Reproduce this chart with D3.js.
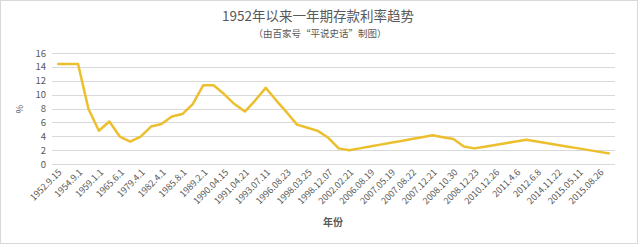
<!DOCTYPE html>
<html lang="zh">
<head>
<meta charset="UTF-8">
<title>1952年以来一年期存款利率趋势</title>
<style>
    body { margin: 0; background: #fff; }
    svg text { font-family: "Noto Sans CJK SC", "Noto Sans", sans-serif; fill: #595959; }
</style>
</head>
<body>
<script src="https://cdn.jsdelivr.net/npm/d3@7"></script>
<script>
// adjustment dates (category axis) and 1-year deposit rate, %
var dates = ["1952.9.15", "1953.1.1", "1954.9.1", "1955.10.1", "1959.1.1", "1959.7.1",
    "1965.6.1", "1971.10.1", "1979.4.1", "1980.4.1", "1982.4.1", "1985.4.1",
    "1985.8.1", "1988.9.1", "1989.2.1", "1989.12.1", "1990.04.15", "1990.08.21",
    "1991.04.21", "1993.05.15", "1993.07.11", "1996.05.01", "1996.08.23", "1997.10.23",
    "1998.03.25", "1998.07.01", "1998.12.07", "1999.06.10", "2002.02.21", "2004.10.29",
    "2006.08.19", "2007.03.18", "2007.05.19", "2007.07.21", "2007.08.22", "2007.09.15",
    "2007.12.21", "2008.10.09", "2008.10.30", "2008.11.27", "2008.12.23", "2010.10.20",
    "2010.12.26", "2011.2.9", "2011.4.6", "2011.7.7", "2012.6.8", "2012.7.6",
    "2014.11.22", "2015.3.1", "2015.05.11", "2015.06.28", "2015.08.26", "2015.10.24"];
var rates = [14.40, 14.40, 14.40, 7.92, 4.80, 6.12,
    3.96, 3.24, 3.96, 5.40, 5.76, 6.84,
    7.20, 8.64, 11.34, 11.34, 10.08, 8.64,
    7.56, 9.18, 10.98, 9.18, 7.47, 5.67,
    5.22, 4.77, 3.78, 2.25, 1.98, 2.25,
    2.52, 2.79, 3.06, 3.33, 3.60, 3.87,
    4.14, 3.87, 3.60, 2.52, 2.25, 2.50,
    2.75, 3.00, 3.25, 3.50, 3.25, 3.00,
    2.75, 2.50, 2.25, 2.00, 1.75, 1.50];
var yTicks = [0, 2, 4, 6, 8, 10, 12, 14, 16];

var W = 640, H = 247;
var plotL = 52, plotR = 615, plotT = 53, plotB = 164;

var svg = d3.select("body").append("svg").attr("width", W).attr("height", H);

// chart area border
svg.append("rect")
    .attr("x", 0.5).attr("y", 0.5)
    .attr("width", W - 3).attr("height", H - 4)
    .attr("fill", "none").attr("stroke", "#d9d9d9");

var x = d3.scaleBand().domain(dates).range([plotL, plotR]);
var y = d3.scaleLinear().domain([0, 16]).range([plotB, plotT]);

// gridlines
svg.append("g").selectAll("line")
    .data(yTicks)
    .enter().append("line")
    .attr("x1", plotL).attr("x2", plotR)
    .attr("y1", function(d){ return Math.round(y(d)) + 0.5; })
    .attr("y2", function(d){ return Math.round(y(d)) + 0.5; })
    .attr("stroke", "#d9d9d9").attr("stroke-width", 1);

// y labels
svg.append("g").selectAll("text")
    .data(yTicks)
    .enter().append("text")
    .attr("x", plotL - 6)
    .attr("y", function(d){ return y(d) + 3.5; })
    .attr("text-anchor", "end")
    .attr("font-size", "9.5px")
    .text(function(d){ return d; });

// x labels, every other category
svg.append("g").selectAll("text")
    .data(dates.filter(function(d, i){ return i % 2 === 0; }))
    .enter().append("text")
    .attr("transform", function(d){
        return "translate(" + (x(d) + x.bandwidth() / 2 + 5) + "," + (plotB + 9) + ") rotate(-45)";
    })
    .attr("text-anchor", "end")
    .attr("font-size", "9px")
    .text(function(d){ return d; });

// line
var line = d3.line()
    .x(function(d, i){ return x(dates[i]) + x.bandwidth() / 2; })
    .y(function(d){ return y(d); });

svg.append("path")
    .datum(rates)
    .attr("d", line)
    .attr("fill", "none")
    .attr("stroke", "#ecbf2e")
    .attr("stroke-width", 2.5)
    .attr("stroke-linejoin", "round");

// titles
svg.append("text")
    .attr("x", 318).attr("y", 21)
    .attr("text-anchor", "middle")
    .attr("font-size", "13.5px")
    .text("1952年以来一年期存款利率趋势");

svg.append("text")
    .attr("x", 320).attr("y", 37)
    .attr("text-anchor", "middle")
    .attr("font-size", "9.5px")
    .text("（由百家号“平说史话”制图）");

svg.append("text")
    .attr("transform", "translate(23,109) rotate(-90)")
    .attr("text-anchor", "middle")
    .attr("font-size", "9.5px")
    .text("%");

svg.append("text")
    .attr("x", 333).attr("y", 226)
    .attr("text-anchor", "middle")
    .attr("font-size", "10px")
    .attr("font-weight", "bold")
    .text("年份");
</script>
</body>
</html>
